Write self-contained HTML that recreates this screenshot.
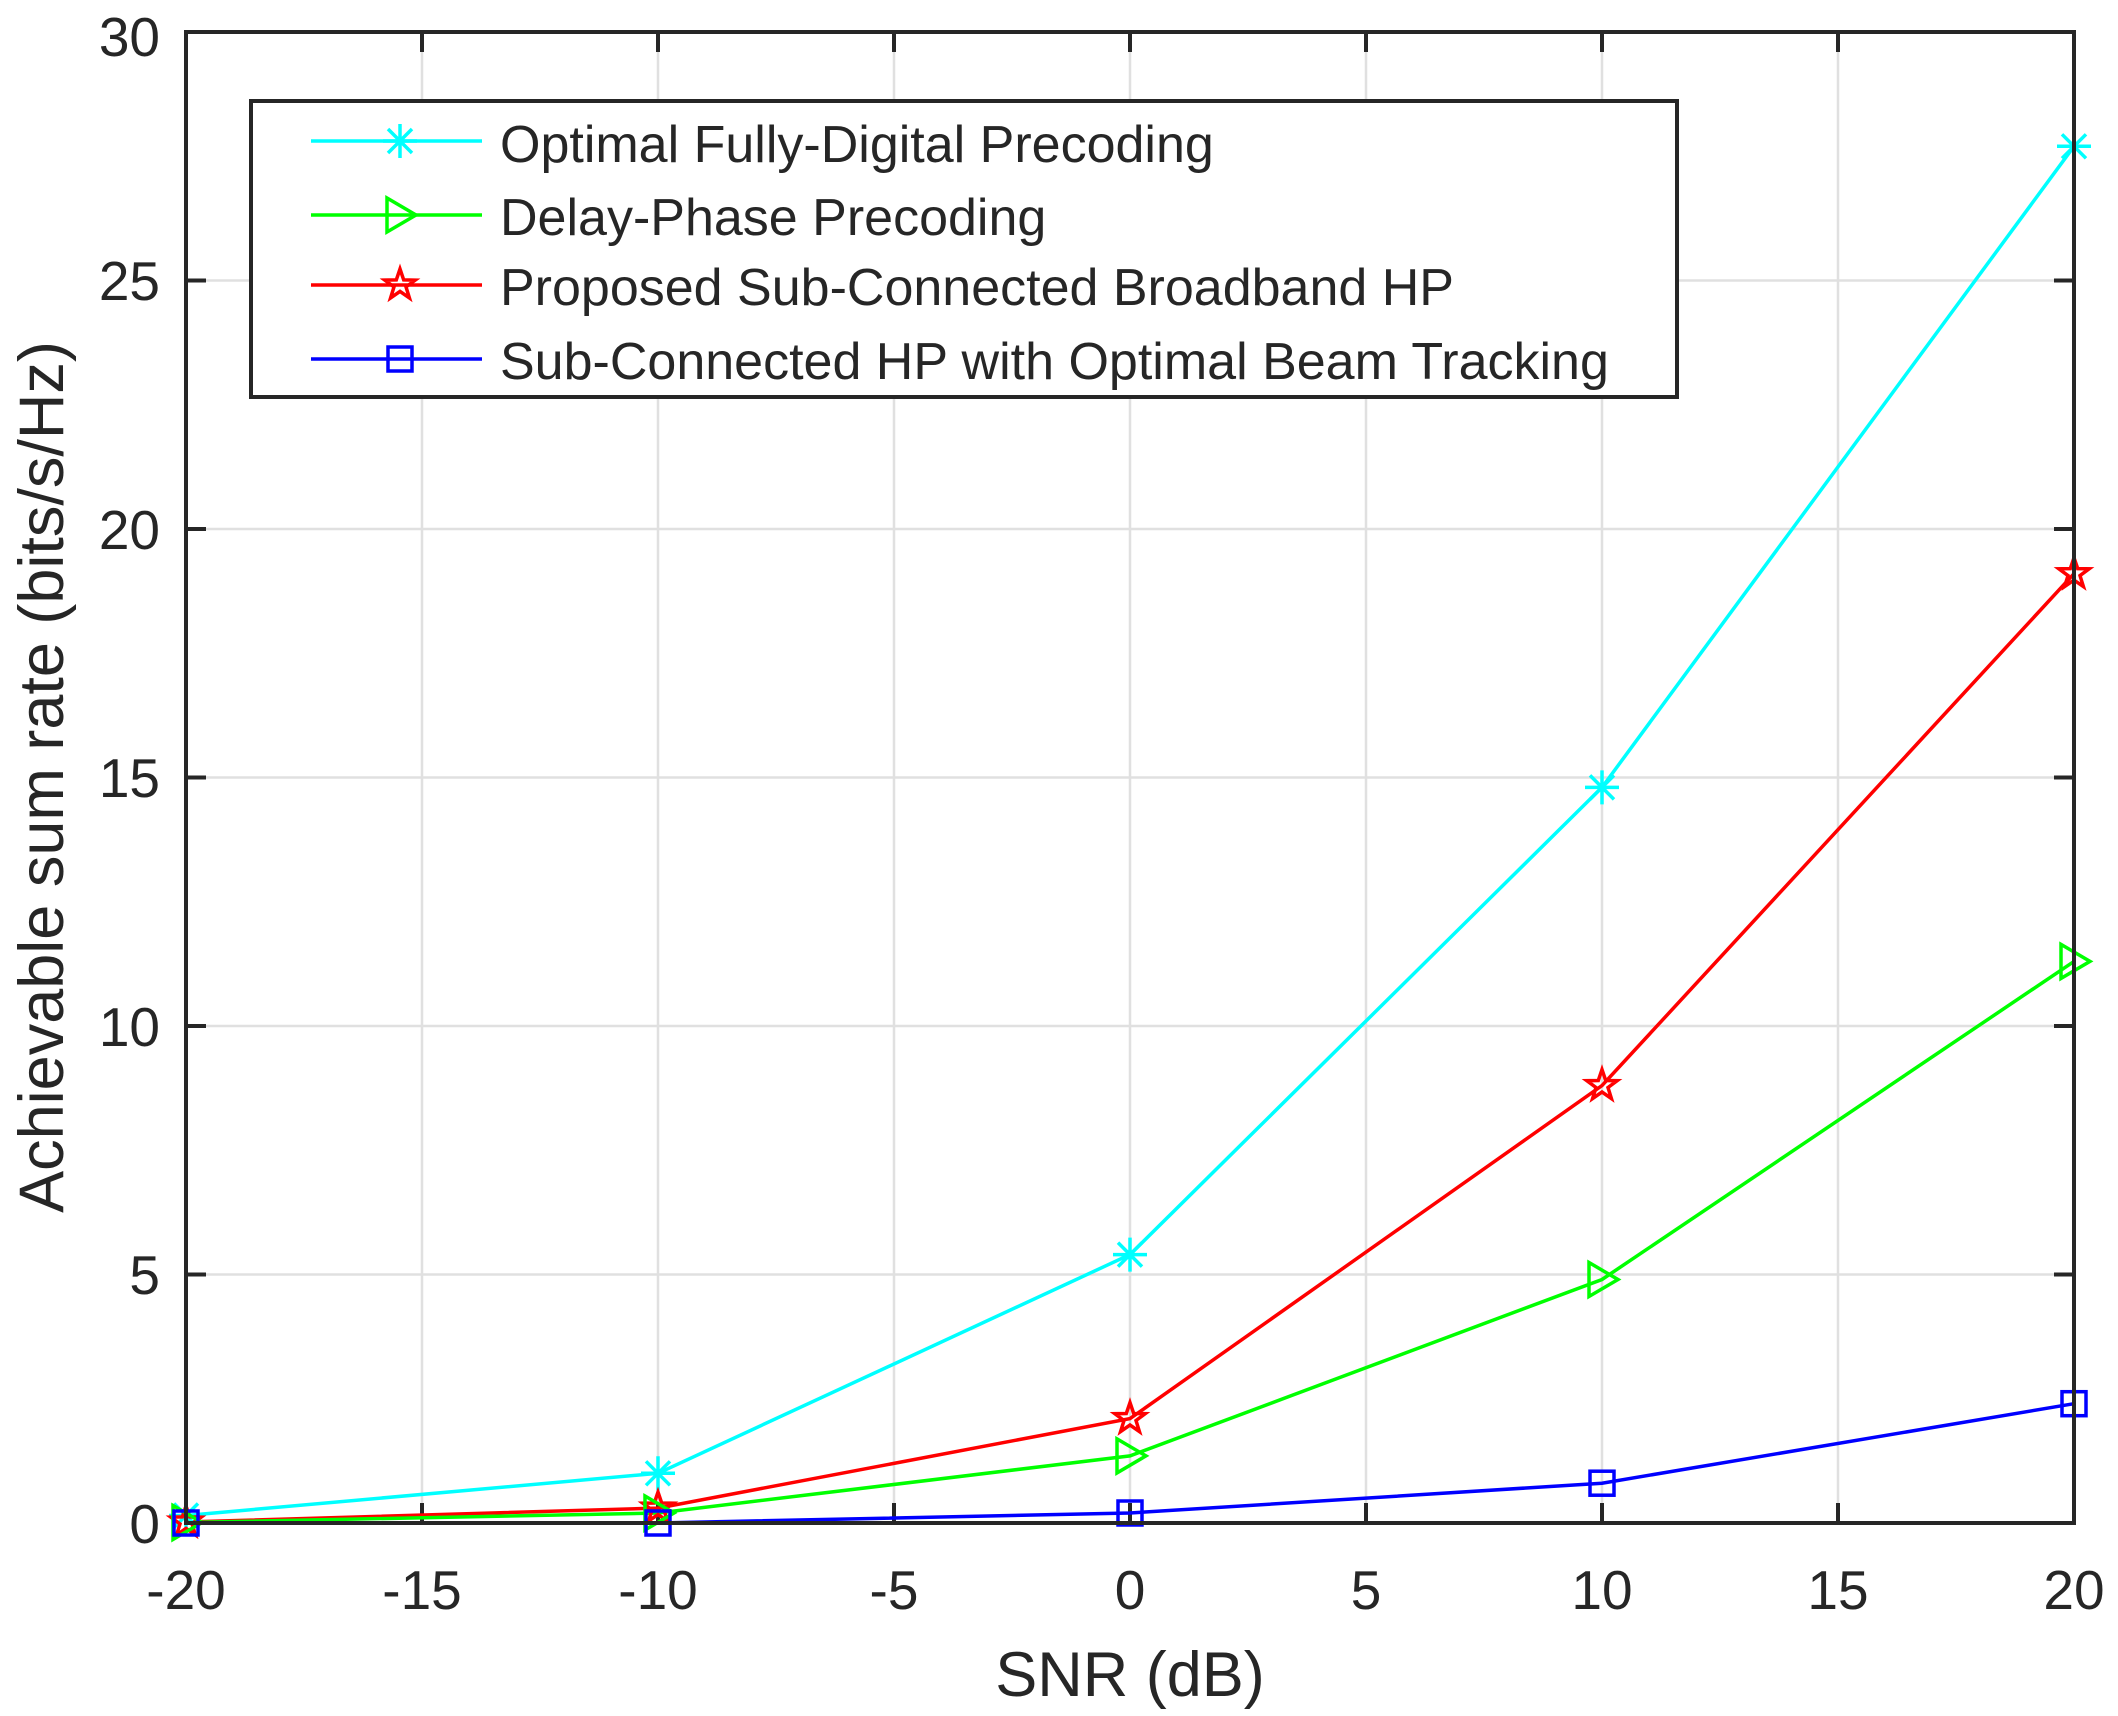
<!DOCTYPE html>
<html><head><style>body{margin:0;background:#fff}svg{display:block}</style></head><body>
<svg width="2118" height="1716" viewBox="0 0 2118 1716" xmlns="http://www.w3.org/2000/svg" font-family="Liberation Sans, sans-serif">
<defs>
<g id="ast" fill="none" stroke="#00ffff" stroke-width="3.5"><path d="M-17 0H17M0-17V17M-12-12L12 12M-12 12L12-12"/></g>
<g id="tri" fill="none" stroke="#00ff00" stroke-width="3.5"><path d="M-13-17L16 0L-13 17Z"/></g>
<g id="star" fill="none" stroke="#ff0000" stroke-width="3.5"><path d="M0-16L3.7-5.1L15.2-4.9L6 1.9L9.4 12.9L0 6.4L-9.4 12.9L-6 1.9L-15.2-4.9L-3.7-5.1Z"/></g>
<g id="sq" fill="none" stroke="#0000ff" stroke-width="3.5"><rect x="-12" y="-12" width="24" height="24"/></g>
</defs>
<g stroke="#e0e0e0" stroke-width="2.5">
<path d="M422 32V1523M658 32V1523M894 32V1523M1130 32V1523M1366 32V1523M1602 32V1523M1838 32V1523"/>
<path d="M186 280.5H2074M186 529H2074M186 777.5H2074M186 1026H2074M186 1274.5H2074"/>
</g>
<g stroke="#262626" stroke-width="4">
<path d="M422 1523v-20M658 1523v-20M894 1523v-20M1130 1523v-20M1366 1523v-20M1602 1523v-20M1838 1523v-20"/>
<path d="M422 32v20M658 32v20M894 32v20M1130 32v20M1366 32v20M1602 32v20M1838 32v20"/>
<path d="M186 280.5h20M186 529h20M186 777.5h20M186 1026h20M186 1274.5h20"/>
<path d="M2074 280.5h-20M2074 529h-20M2074 777.5h-20M2074 1026h-20M2074 1274.5h-20"/>
</g>
<polyline fill="none" stroke="#00ffff" stroke-width="3.5" points="186,1515.5 658,1473.3 1130,1254.6 1602,787.4 2074,146.3"/>
<polyline fill="none" stroke="#ff0000" stroke-width="3.5" points="186,1522 658,1508.1 1130,1418.6 1602,1085.6 2074,573.7"/>
<polyline fill="none" stroke="#00ff00" stroke-width="3.5" points="186,1522.5 658,1513 1130,1455.9 1602,1279.5 2074,961.4"/>
<polyline fill="none" stroke="#0000ff" stroke-width="3.5" points="186,1523 658,1523 1130,1513 1602,1483.2 2074,1403.7"/>
<use href="#ast" x="186" y="1515.5"/><use href="#ast" x="658" y="1473.3"/><use href="#ast" x="1130" y="1254.6"/><use href="#ast" x="1602" y="787.4"/><use href="#ast" x="2074" y="146.3"/>
<use href="#star" x="186" y="1522"/><use href="#star" x="658" y="1508.1"/><use href="#star" x="1130" y="1418.6"/><use href="#star" x="1602" y="1085.6"/><use href="#star" x="2074" y="573.7"/>
<use href="#tri" x="186" y="1522.5"/><use href="#tri" x="658" y="1513"/><use href="#tri" x="1130" y="1455.9"/><use href="#tri" x="1602" y="1279.5"/><use href="#tri" x="2074" y="961.4"/>
<use href="#sq" x="186" y="1523"/><use href="#sq" x="658" y="1523"/><use href="#sq" x="1130" y="1513"/><use href="#sq" x="1602" y="1483.2"/><use href="#sq" x="2074" y="1403.7"/>
<rect x="186" y="32" width="1888" height="1491" fill="none" stroke="#262626" stroke-width="4"/>
<rect x="251" y="101" width="1426" height="296" fill="#fff" stroke="#262626" stroke-width="4"/>
<g stroke-width="3.5">
<path d="M311 141H482" stroke="#00ffff"/><use href="#ast" x="400" y="141"/>
<path d="M311 215H482" stroke="#00ff00"/><use href="#tri" x="400" y="215"/>
<path d="M311 285H482" stroke="#ff0000"/><use href="#star" x="400" y="285"/>
<path d="M311 359H482" stroke="#0000ff"/><use href="#sq" x="400" y="359"/>
</g>
<g font-size="52" fill="#262626">
<text x="500" y="162">Optimal Fully-Digital Precoding</text>
<text x="500" y="235">Delay-Phase Precoding</text>
<text x="500" y="305">Proposed Sub-Connected Broadband HP</text>
<text x="500" y="379">Sub-Connected HP with Optimal Beam Tracking</text>
</g>
<g font-size="55" fill="#262626" text-anchor="end">
<text x="160" y="56">30</text><text x="160" y="300">25</text><text x="160" y="549">20</text><text x="160" y="797">15</text><text x="160" y="1046">10</text><text x="160" y="1294">5</text><text x="160" y="1543">0</text>
</g>
<g font-size="55" fill="#262626" text-anchor="middle">
<text x="186" y="1609">-20</text><text x="422" y="1609">-15</text><text x="658" y="1609">-10</text><text x="894" y="1609">-5</text><text x="1130" y="1609">0</text><text x="1366" y="1609">5</text><text x="1602" y="1609">10</text><text x="1838" y="1609">15</text><text x="2074" y="1609">20</text>
<text x="1130" y="1696" font-size="63">SNR (dB)</text>
<text transform="translate(63 777) rotate(-90)" font-size="63">Achievable sum rate (bits/s/Hz)</text>
</g>
</svg>
</body></html>
